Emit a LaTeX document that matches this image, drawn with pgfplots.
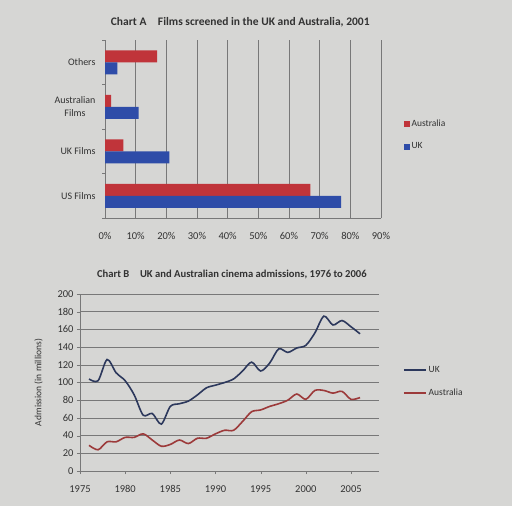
\documentclass[border=0pt]{standalone}
\usepackage{pgfplots}
\pgfplotsset{compat=1.18}
\usepackage{fontspec}
\setmainfont{Carlito}
\definecolor{bg}{RGB}{214,214,212}
\definecolor{ausred}{RGB}{192,52,58}
\definecolor{ukblue}{RGB}{46,76,168}
\definecolor{ukline}{RGB}{44,56,92}
\definecolor{ausline}{RGB}{156,58,58}
\definecolor{gridc}{RGB}{120,120,120}
\definecolor{txt}{RGB}{50,50,50}
\begin{document}
\begin{tikzpicture}
\fill[bg] (0pt,0pt) rectangle (512pt,-506pt);
% Chart A
\begin{axis}[
  at={(105pt,-218pt)}, anchor=south west,
  scale only axis, width=276pt, height=178pt,
  /pgf/number format/assume math mode=true,
  xbar, bar width=12pt,
  xmin=0, xmax=90, ymin=-0.5, ymax=3.5,
  xtick={0,10,...,90},
  xticklabel={\pgfmathprintnumber{\tick}\%},
  ytick={0,1,2,3},
  yticklabels={US Films,UK Films,{Australian\\Films},Others},
  yticklabel style={align=center, font=\fontsize{10}{13}\selectfont, text=txt, xshift=-6pt},
  xticklabel style={font=\fontsize{10.5}{12}\selectfont, text=txt, yshift=-11pt},
  major tick length=0pt,
  minor ytick={-0.5,0.5,1.5,2.5,3.5},
  minor tick length=3pt,
  minor tick style={gridc},
  xmajorgrids, grid style={gridc, line width=0.6pt},
  axis x line*=bottom, axis y line*=left,
  axis line style={gridc, line width=0.6pt},
  title={\textbf{Chart A\quad Films screened in the UK and Australia, 2001}},
  title style={font=\fontsize{11.5}{13}\selectfont, text=txt, at={(0.49,1)}, anchor=south, yshift=3pt},
  legend style={at={(1.07,0.466)}, anchor=west, draw=none, fill=none,
    font=\fontsize{9.5}{11}\selectfont, text=txt, row sep=11pt},
  legend cell align=left,
  legend image code/.code={\fill[#1] (0pt,-3pt) rectangle (6pt,3pt);},
]
\addplot[fill=ausred, draw=none, bar shift=6pt] coordinates {(67,0) (6,1) (2,2) (17,3)};
\addplot[fill=ukblue, draw=none, bar shift=-6pt] coordinates {(77,0) (21,1) (11,2) (4,3)};
\legend{Australia,UK}
\end{axis}
% Chart B
\begin{axis}[
  at={(80pt,-471pt)}, anchor=south west,
  scale only axis, width=299pt, height=177pt,
  /pgf/number format/assume math mode=true,
  xmin=1975, xmax=2008.1, ymin=0, ymax=200,
  xtick={1975,1980,...,2005},
  ytick={0,20,...,200},
  x tick label style={/pgf/number format/1000 sep={}, font=\fontsize{10.5}{12}\selectfont, text=txt, yshift=-8pt},
  y tick label style={font=\fontsize{10.5}{12}\selectfont, text=txt},
  major tick length=3pt,
  tick style={gridc},
  tick align=outside,
  ymajorgrids, grid style={gridc, line width=0.6pt},
  axis x line*=bottom, axis y line*=left,
  axis line style={gridc, line width=0.6pt},
  ylabel={Admission (in millions)},
  ylabel style={font=\fontsize{9.5}{11}\selectfont, text=txt, yshift=8pt},
  title={\textbf{Chart B\quad UK and Australian cinema admissions, 1976 to 2006}},
  title style={font=\fontsize{10.6}{12}\selectfont, text=txt, at={(0.508,1)}, anchor=south, yshift=6pt},
  legend style={at={(1.07,0.506)}, anchor=west, draw=none, fill=none,
    font=\fontsize{9.5}{11}\selectfont, text=txt, row sep=11pt},
  legend cell align=left,
  legend image code/.code={\draw[#1] (0pt,0pt) -- (22pt,0pt);},
]
\addplot[ukline, line width=1.6pt, smooth, tension=0.5] coordinates {
(1976,104) (1977,102) (1978,126) (1979,111) (1980,102) (1981,86) (1982,63) (1983,65) (1984,53) (1985,73)
(1986,76) (1987,79) (1988,86) (1989,94) (1990,97) (1991,100) (1992,104) (1993,113) (1994,123) (1995,113)
(1996,122) (1997,138) (1998,134) (1999,139) (2000,142) (2001,156) (2002,175) (2003,165) (2004,170) (2005,163) (2006,155)};
\addplot[ausline, line width=1.6pt, smooth, tension=0.5] coordinates {
(1976,29) (1977,24) (1978,33) (1979,33) (1980,38) (1981,38) (1982,42) (1983,35) (1984,28) (1985,30)
(1986,35) (1987,31) (1988,37) (1989,37) (1990,42) (1991,46) (1992,46) (1993,56) (1994,67) (1995,69)
(1996,73) (1997,76) (1998,80) (1999,87) (2000,81) (2001,91) (2002,91) (2003,88) (2004,90) (2005,81) (2006,83)};
\legend{UK,Australia}
\end{axis}
\pgfresetboundingbox
\useasboundingbox (0pt,0pt) rectangle (512pt,-506pt);
\end{tikzpicture}
\end{document}
